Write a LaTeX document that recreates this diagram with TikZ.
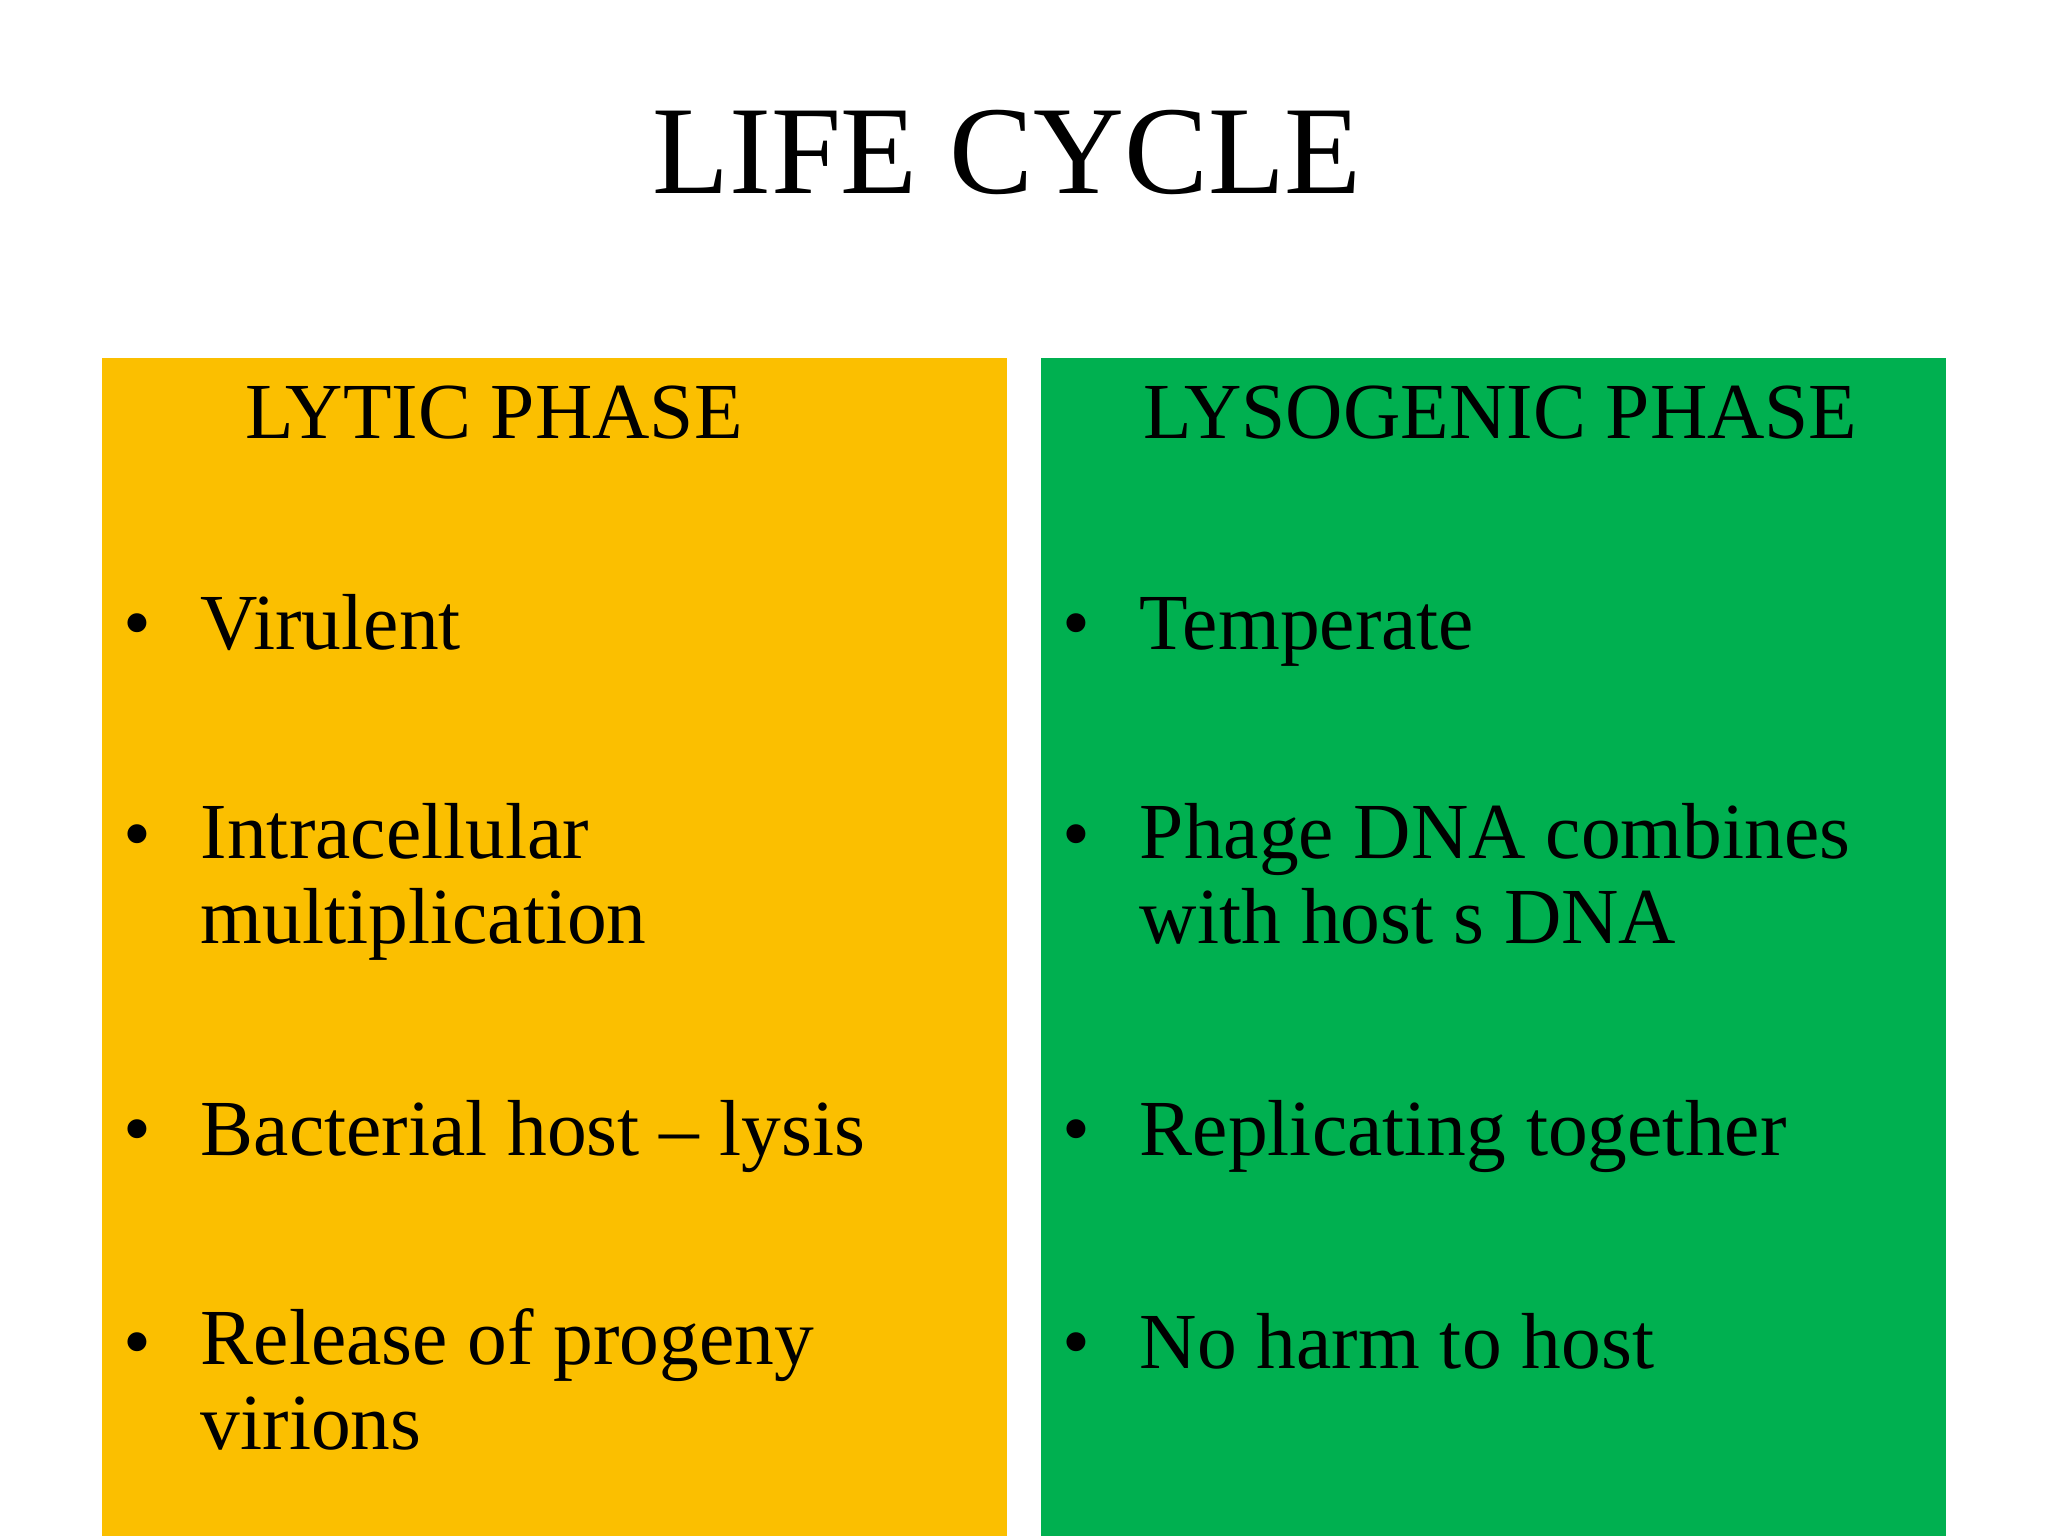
\documentclass[tikz,border=0pt]{standalone}
\usepackage{fontspec}
\setmainfont{Liberation Serif}
\definecolor{lyt}{HTML}{FBBF00}
\definecolor{lys}{HTML}{00B050}
\begin{document}
\begin{tikzpicture}[x=0.01cm,y=-0.01cm,
  txt/.style={anchor=base west,inner sep=0pt,font=\fontsize{17.3}{18.5}\selectfont,align=left},
  bul/.style={anchor=base,inner sep=0pt,font=\fontsize{17.3}{18.5}\selectfont}]
\useasboundingbox (0,0) rectangle (1568,1176);
\fill[white] (0,0) rectangle (1568,1176);
\node[anchor=base,inner sep=0pt,font=\fontsize{27.4}{30}\selectfont] (title) at (771,148) {LIFE CYCLE};
\fill[lyt] (78,274) rectangle (771,1176);
\fill[lys] (797,274) rectangle (1490,1176);
\node[txt] (h1) at (187,336) {LYTIC PHASE};
\node[txt] (h2) at (875,336) {LYSOGENIC PHASE};
\foreach \y/\n in {497/a,659/b,885/c,1048/d}{
  \node[bul] (bl\n) at (105,\y) {•};
  \node[bul] (br\n) at (824,\y) {•};}
\node[txt] (l1) at (153,497) {Virulent};
\node[txt] (l2) at (153,722) {Intracellular\\multiplication};
\node[txt] (l3) at (153,885) {Bacterial host – lysis};
\node[txt] (l4) at (153,1110) {Release of progeny\\virions};
\node[txt] (r1) at (872,497) {Temperate};
\node[txt] (r2) at (872,722) {Phage DNA combines\\with host s DNA};
\node[txt] (r3) at (872,885) {Replicating together};
\node[txt] (r4) at (872,1048) {No harm to host};
\end{tikzpicture}
\end{document}
